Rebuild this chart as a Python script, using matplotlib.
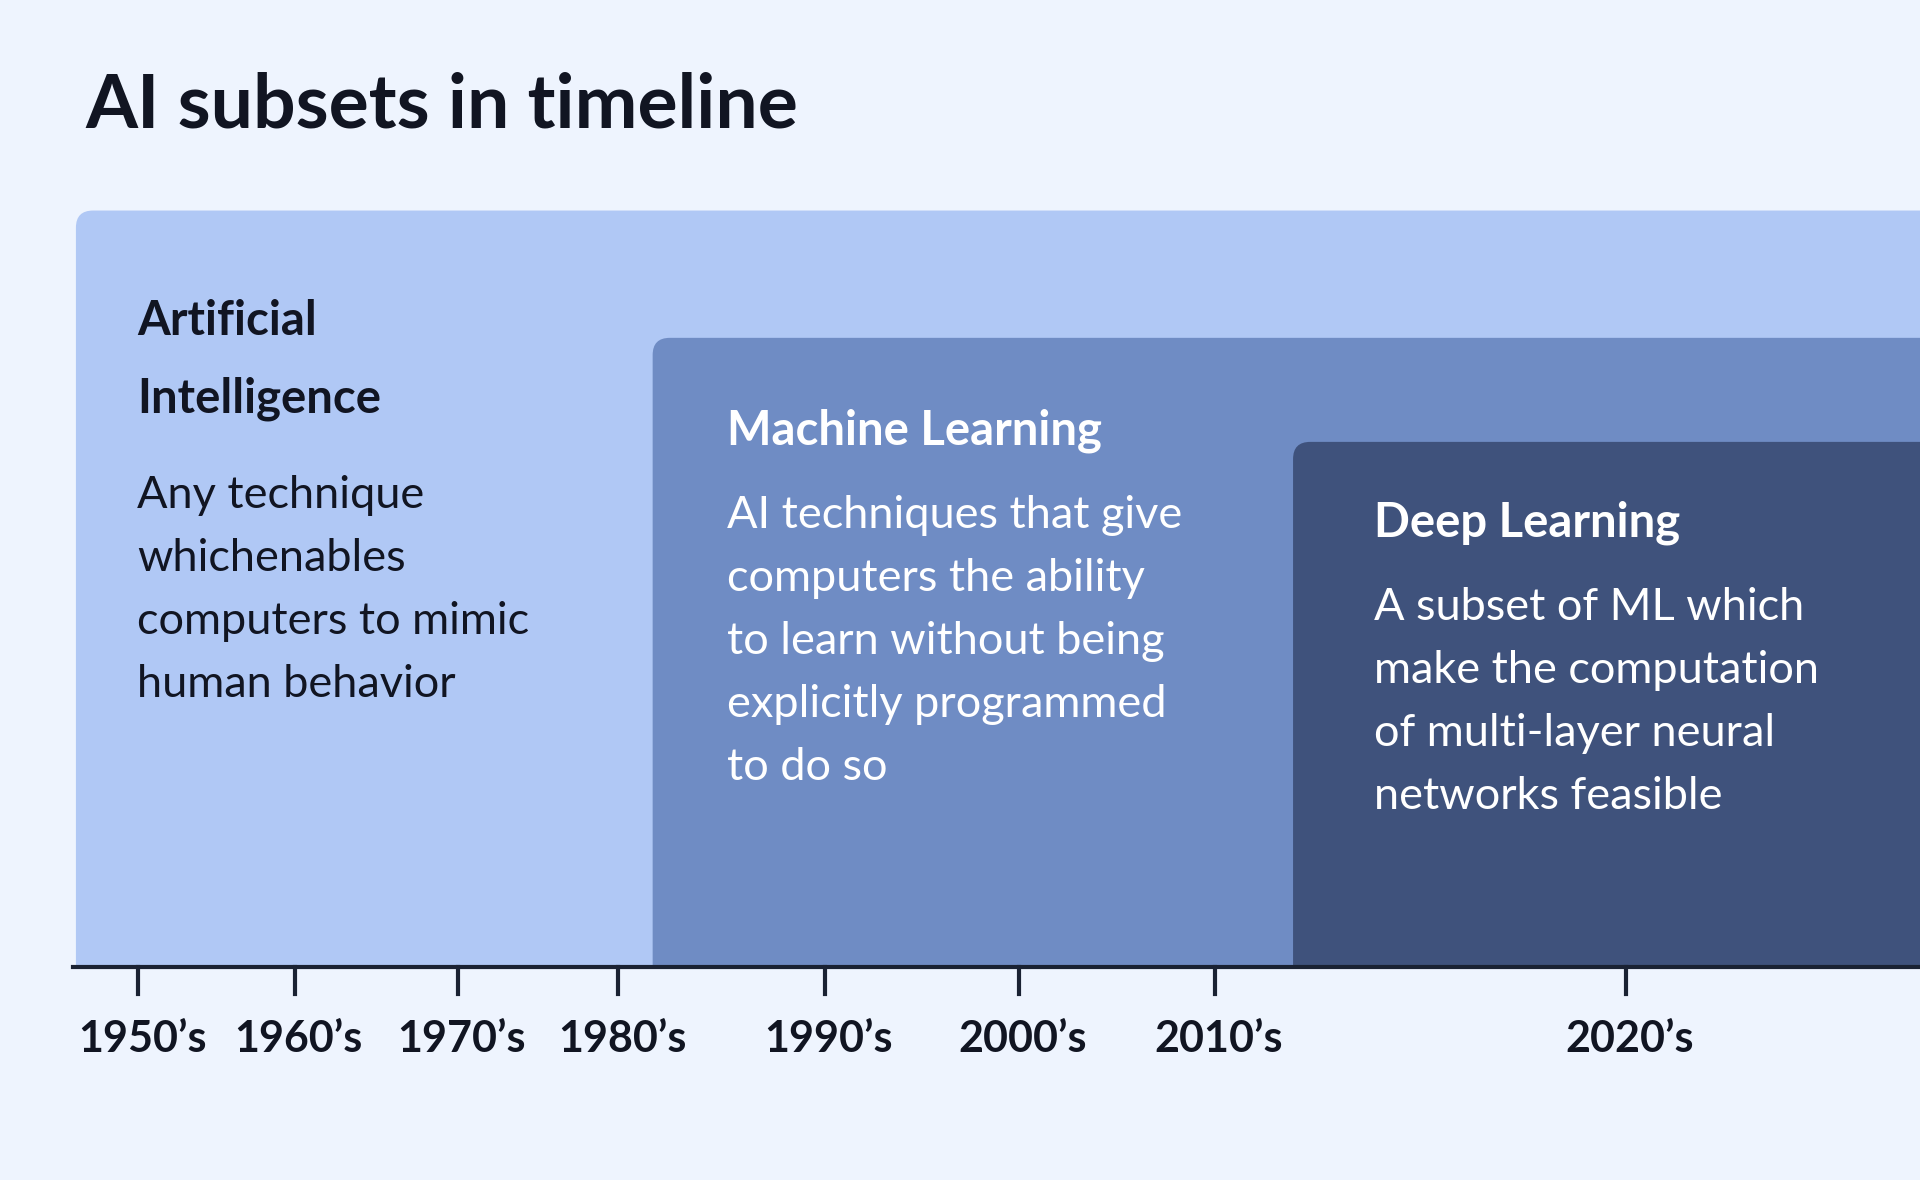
import matplotlib
matplotlib.use("Agg")
import matplotlib.pyplot as plt
from matplotlib.patches import FancyBboxPatch

plt.rcParams["font.family"] = ["Lato", "DejaVu Sans"]

# layout is in reference pixels (1568 x 964 canvas)
W, H = 1568, 964
decades = ["1950’s", "1960’s", "1970’s", "1980’s", "1990’s", "2000’s", "2010’s", "2020’s"]
tick_x = [113, 241, 374, 505, 674, 832, 992, 1328]

boxes = [
    # (left, top, colour, title lines, body lines, text colour, text x, title y, body y)
    (62, 172, "#B0C8F5", ["Artificial", "Intelligence"],
     ["Any technique", "whichenables", "computers to mimic", "human behavior"], "#111522", 112, 262, 405),
    (533, 276, "#6F8CC4", ["Machine Learning"],
     ["AI techniques that give", "computers the ability", "to learn without being",
      "explicitly programmed", "to do so"], "white", 594, 352, 421),
    (1056, 361, "#3F527C", ["Deep Learning"],
     ["A subset of ML which", "make the computation", "of multi-layer neural",
      "networks feasible"], "white", 1122, 427, 496),
]
base_y = 790

fig = plt.figure(figsize=(19.2, 11.8), dpi=100)
fig.patch.set_facecolor("#EEF4FE")
ax = fig.add_axes([0, 0, 1, 1])
ax.set_xlim(0, W)
ax.set_ylim(H, 0)
ax.axis("off")

ax.text(70, 87, "AI subsets in timeline", fontsize=54, fontweight="bold",
        color="#111522", va="center", ha="left")

for left, top, col, title, body, tcol, tx, ty, by in boxes:
    r = 14
    ax.add_patch(FancyBboxPatch((left + r, top + r), W + 50 - left, base_y - top + 50,
                                boxstyle=f"round,pad={r}", fc=col, ec="none", zorder=1))
    for i, line in enumerate(title):
        ax.text(tx, ty + i * 64, line, fontsize=34, fontweight="bold", color=tcol,
                va="center", ha="left", zorder=3)
    for i, line in enumerate(body):
        ax.text(tx, by + i * 51.5, line, fontsize=32.5, color=tcol,
                va="center", ha="left", zorder=3)

# mask below axis line
ax.add_patch(plt.Rectangle((0, base_y), W, H - base_y, fc="#EEF4FE", ec="none", zorder=2))
ax.plot([60, W], [base_y, base_y], color="#1A2233", lw=3, zorder=4)
for x, lab in zip(tick_x, decades):
    ax.plot([x, x], [base_y, base_y + 22], color="#1A2233", lw=3, zorder=4)
    ax.text(x + 3, 849, lab, fontsize=31, fontweight="bold", color="#111522",
            ha="center", va="center", zorder=4)

fig.savefig("out.png", dpi=100, facecolor=fig.get_facecolor())
